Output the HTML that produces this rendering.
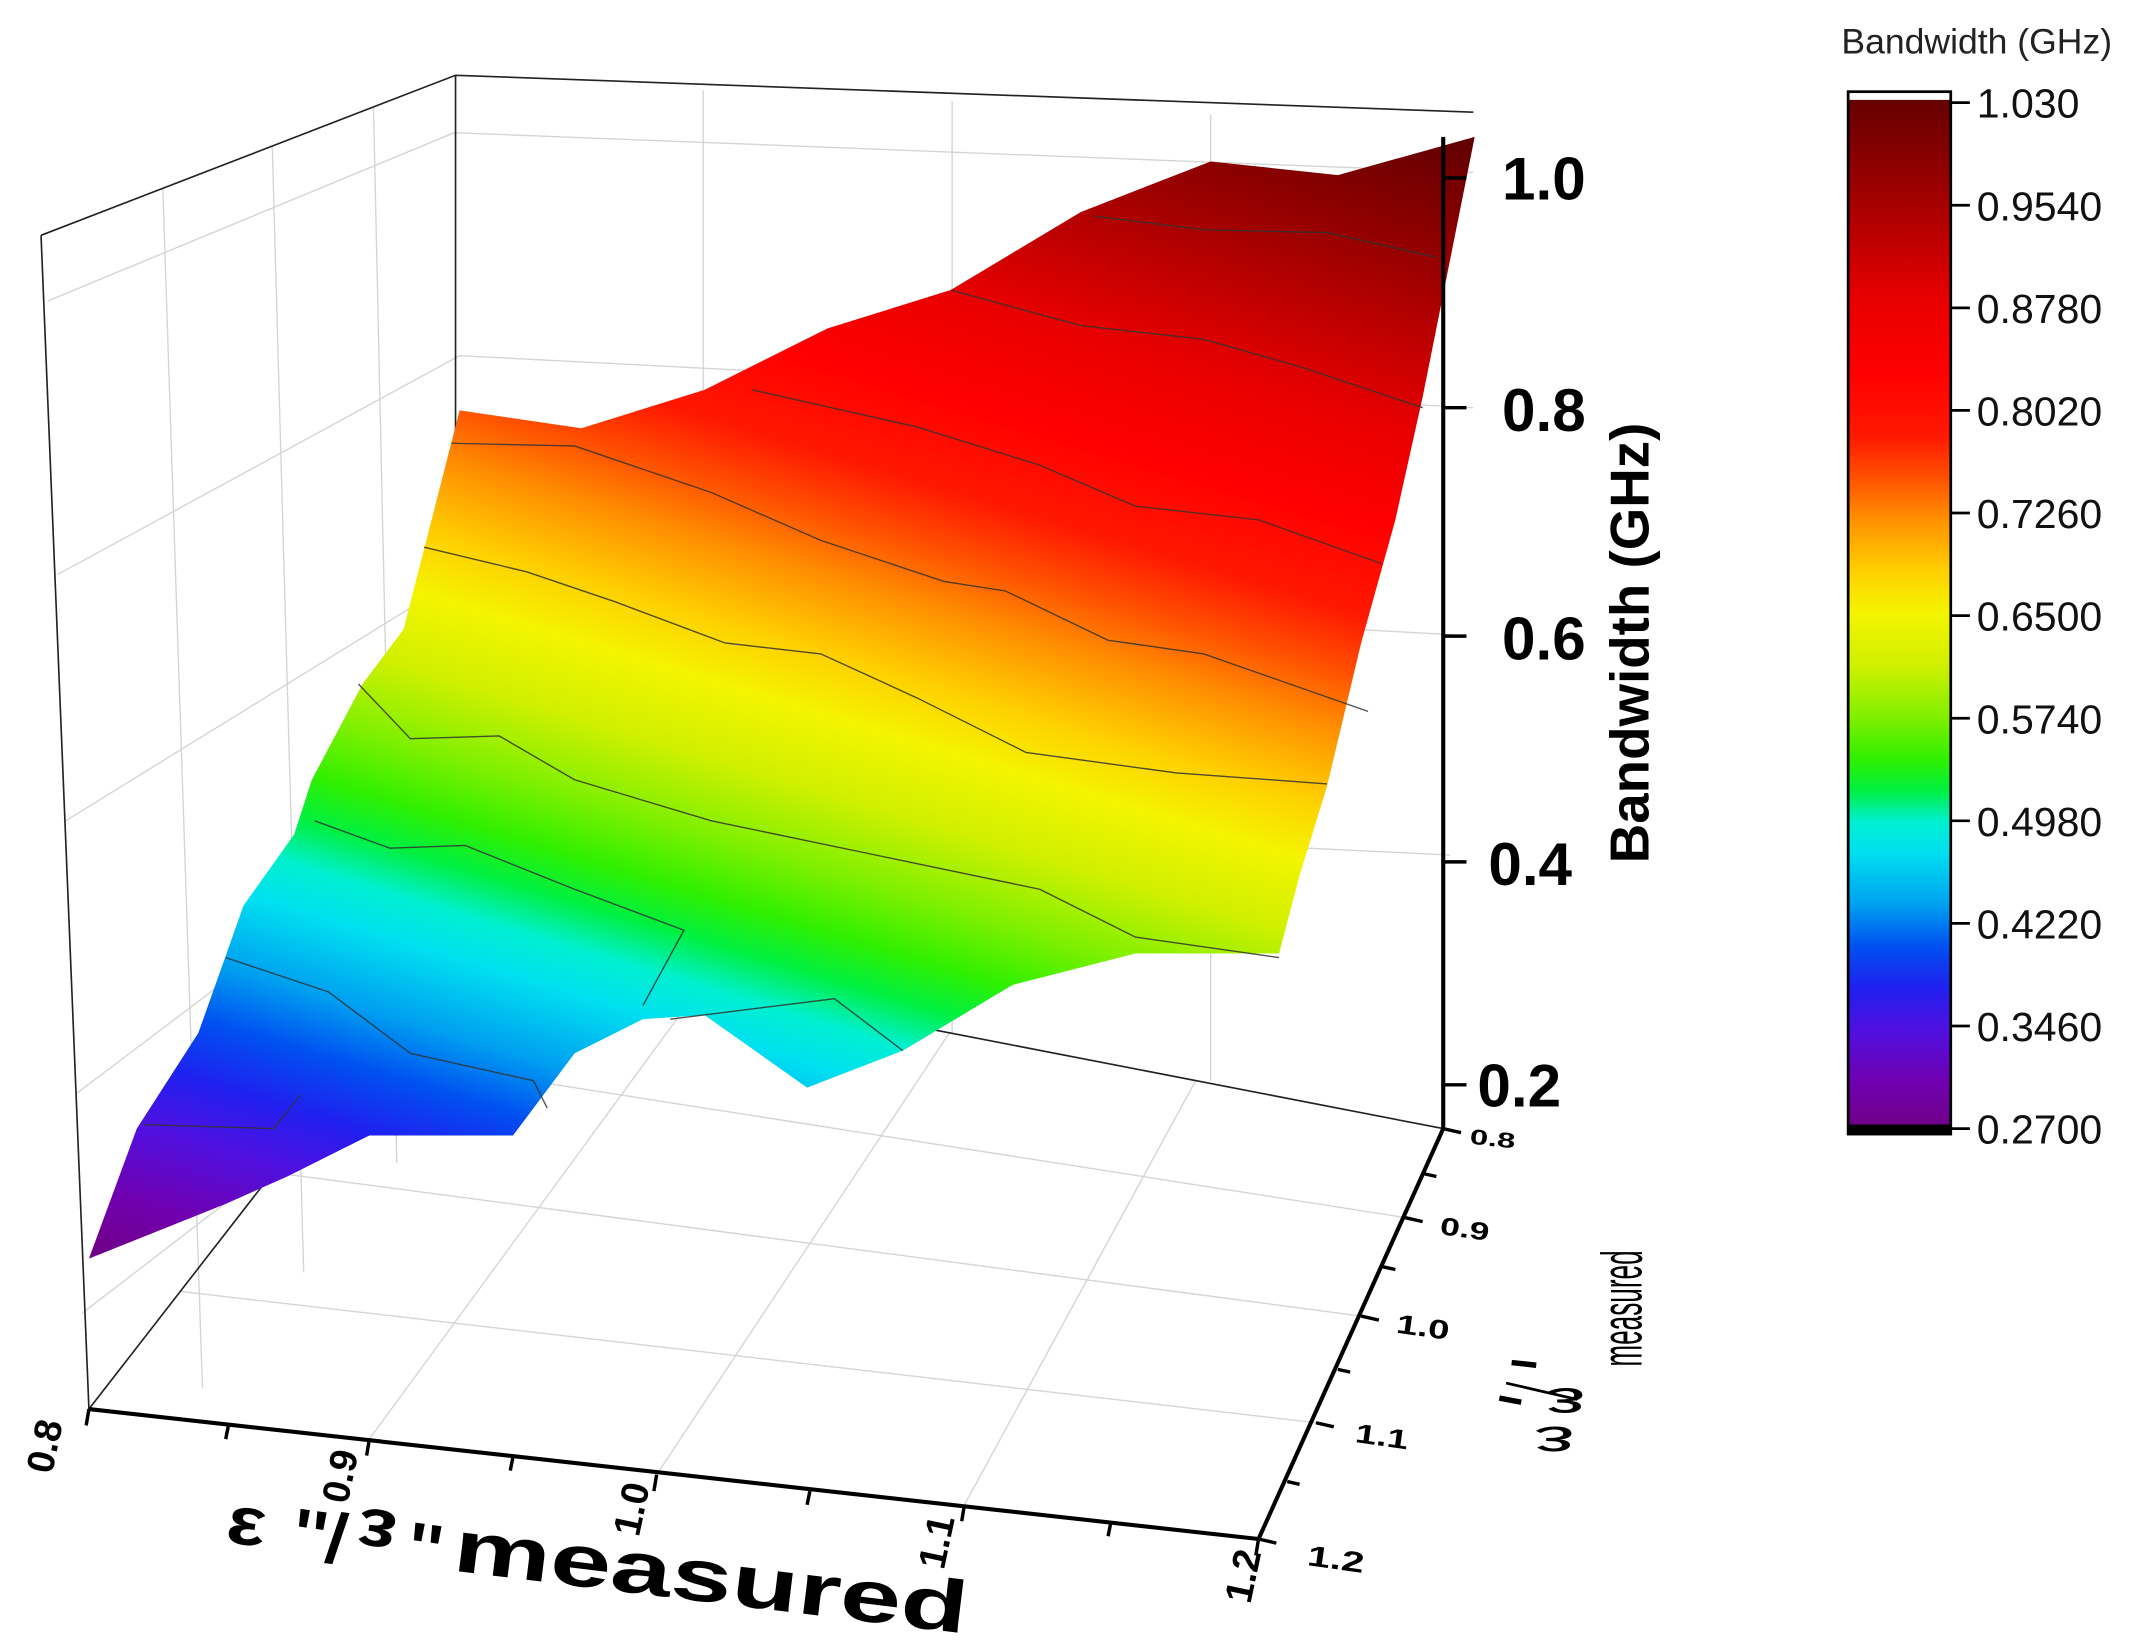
<!DOCTYPE html>
<html><head><meta charset="utf-8"><style>html,body{margin:0;padding:0;background:#fff}svg{display:block}</style></head>
<body>
<svg width="2145" height="1643" viewBox="0 0 1568 1201" xmlns="http://www.w3.org/2000/svg" font-family="Liberation Sans, Arial, sans-serif">
<defs>
<linearGradient id="g" gradientUnits="userSpaceOnUse" x1="922" y1="56" x2="612" y2="1088">
<stop offset="0" stop-color="#600000"/><stop offset="0.1" stop-color="#a00000"/><stop offset="0.2" stop-color="#e80000"/>
<stop offset="0.27" stop-color="#ff0000"/><stop offset="0.33" stop-color="#ff1800"/><stop offset="0.37" stop-color="#ff5000"/>
<stop offset="0.41" stop-color="#ff9000"/><stop offset="0.46" stop-color="#ffd000"/><stop offset="0.5" stop-color="#f4f400"/>
<stop offset="0.55" stop-color="#d0f000"/><stop offset="0.6" stop-color="#80f000"/><stop offset="0.64" stop-color="#30f000"/>
<stop offset="0.67" stop-color="#00f040"/><stop offset="0.7" stop-color="#00f0d0"/><stop offset="0.73" stop-color="#00e0f0"/>
<stop offset="0.78" stop-color="#00a0f0"/><stop offset="0.82" stop-color="#0050f0"/><stop offset="0.86" stop-color="#2020f0"/>
<stop offset="0.9" stop-color="#5010e0"/><stop offset="0.95" stop-color="#7000b0"/><stop offset="1" stop-color="#700080"/></linearGradient>
<linearGradient id="cb" x1="0" y1="0" x2="0" y2="1">
<stop offset="0" stop-color="#600000"/><stop offset="0.1" stop-color="#a00000"/><stop offset="0.2" stop-color="#e80000"/>
<stop offset="0.27" stop-color="#ff0000"/><stop offset="0.33" stop-color="#ff1800"/><stop offset="0.37" stop-color="#ff5000"/>
<stop offset="0.41" stop-color="#ff9000"/><stop offset="0.46" stop-color="#ffd000"/><stop offset="0.5" stop-color="#f4f400"/>
<stop offset="0.55" stop-color="#d0f000"/><stop offset="0.6" stop-color="#80f000"/><stop offset="0.64" stop-color="#30f000"/>
<stop offset="0.67" stop-color="#00f040"/><stop offset="0.7" stop-color="#00f0d0"/><stop offset="0.73" stop-color="#00e0f0"/>
<stop offset="0.78" stop-color="#00a0f0"/><stop offset="0.82" stop-color="#0050f0"/><stop offset="0.86" stop-color="#2020f0"/>
<stop offset="0.9" stop-color="#5010e0"/><stop offset="0.95" stop-color="#7000b0"/><stop offset="1" stop-color="#700080"/></linearGradient>
</defs>
<!-- grid -->
<g stroke="#d4d4d4" stroke-width="1" fill="none">
<path d="M119,137 L148,1015 M199,106 L222,930 M273,78 L290,850"/>
<path d="M514,66 L514,720 M696,74 L696,755 M885,84 L885,790"/>
<path d="M35,220 L332,97 L1077,126 M42,420 L336,260 L1077,298 M48,600 L333,424 L1063,464 M55,800 L333,590 L1060,625 M60,960 L333,750"/>
<path d="M266,771 L1027,890 M199,857 L995,962 M132,944 L962,1040"/>
<path d="M270,1052 L513,720 M480,1078 L694,755 M705,1100 L874,790"/>
</g>
<g stroke="#222" stroke-width="1.2" fill="none">
<path d="M30,172 L333,55 L1077,82 M333,55 L333,685 M30,172 L65,1030 L333,685 L1055,825"/>
</g>
<!-- surface -->
<path fill="url(#g)" d="M65,920 L100,825 L145,755 L178,662 L215,610 L228,570 L265,500 L295,460 L336,300 L425,313 L515,285 L605,240 L695,212 L790,155 L885,118 L978,128 L1078,100 L1062,180 L1040,290 L1020,380 L995,470 L970,575 L950,640 L935,697 L830,697 L740,720 L660,768 L590,795 L515,742 L470,745 L420,770 L375,830 L270,830 L210,860 L165,880 Z"/>
<g stroke="#333" stroke-width="1" fill="none" opacity="0.85">
<path d="M330,324 L420,326 L520,360 L600,395 L690,425 L735,432 L810,468 L880,478 L1000,520"/>
<path d="M310,400 L385,418 L450,440 L530,470 L600,478 L670,510 L750,550 L860,565 L970,573"/>
<path d="M262,500 L300,540 L365,538 L420,570 L520,600 L640,625 L760,650 L830,685 L935,700"/>
<path d="M230,600 L285,620 L340,618 L420,650 L500,680 L470,735"/>
<path d="M165,700 L240,725 L300,770 L390,790 L400,810"/>
<path d="M105,822 L200,825 L220,800"/>
<path d="M800,158 L880,168 L970,170 L1050,188"/>
<path d="M695,212 L790,238 L880,248 L950,268 L1040,298"/>
<path d="M550,285 L670,312 L760,340 L830,370 L920,380 L1010,412"/>
<path d="M490,745 L610,730 L660,768"/>
</g>
<!-- axes -->
<g stroke="#000" stroke-width="3" fill="none">
<path d="M1055,100 L1055,825 L920,1125 M65,1030 L920,1125"/>
</g>
<g stroke="#000" stroke-width="2.5">
<path d="M1055,130 L1072,130 M1055,298 L1072,298 M1055,465 L1072,465 M1055,630 L1072,630 M1055,793 L1072,793"/>
<path d="M65,1030 L63,1042 M167,1042 L165,1052 M270,1052 L268,1064 M375,1065 L373,1075 M480,1078 L478,1090 M592,1090 L590,1100 M705,1100 L703,1112 M812,1113 L810,1123 M920,1125 L918,1137"/>
<path d="M1055,825 L1068,828 M1041,858 L1050,860 M1027,890 L1040,893 M1011,926 L1020,928 M995,962 L1008,965 M978,1001 L987,1003 M962,1040 L975,1043 M941,1083 L950,1085 M920,1125 L933,1128"/>
</g>
<g font-weight="bold" font-size="44" fill="#000">
<text x="1098" y="146">1.0</text><text x="1098" y="315">0.8</text><text x="1098" y="482">0.6</text><text x="1088" y="647">0.4</text><text x="1080" y="809">0.2</text>
</g>
<text transform="translate(1205,470) rotate(-90)" text-anchor="middle" font-weight="bold" font-size="40">Bandwidth (GHz)</text>
<g font-weight="bold" font-size="28" fill="#000">
<text transform="translate(46,1040) rotate(-78)" text-anchor="end">0.8</text>
<text transform="translate(262,1062) rotate(-78)" text-anchor="end">0.9</text>
<text transform="translate(475,1086) rotate(-78)" text-anchor="end">1.0</text>
<text transform="translate(698,1110) rotate(-78)" text-anchor="end">1.1</text>
<text transform="translate(922,1135) rotate(-78)" text-anchor="end">1.2</text>
</g>
<g font-weight="bold" fill="#000">
<text transform="translate(1074,836) rotate(6) scale(1,0.65)" font-size="24">0.8</text>
<text transform="translate(1052,902) rotate(8) scale(1,0.7)" font-size="26">0.9</text>
<text transform="translate(1020,974) rotate(8) scale(1,0.7)" font-size="28">1.0</text>
<text transform="translate(990,1054) rotate(8) scale(1,0.7)" font-size="28">1.1</text>
<text transform="translate(955,1144) rotate(8) scale(1,0.7)" font-size="30">1.2</text>
</g>
<!-- bottom axis title -->
<g font-weight="bold" fill="#000">
<text transform="translate(164,1127) rotate(8) scale(1.2,1)" font-size="50">ε</text>
<text transform="translate(212,1138) rotate(8)" font-size="52">''/</text>
<text transform="translate(292,1106) rotate(188) scale(1.2,1)" font-size="50">ε</text>
<text transform="translate(296,1148) rotate(8)" font-size="52">''</text>
<text transform="translate(330,1148) rotate(7)" font-size="54" textLength="378" lengthAdjust="spacingAndGlyphs">measured</text>
</g>
<!-- depth axis title -->
<g fill="#000">
<text transform="translate(1159,1015) rotate(180) scale(1,0.5)" font-size="66">ε</text>
<text transform="translate(1151,1043) rotate(180) scale(1,0.5)" font-size="66">ε</text>
<text transform="translate(1200,999) rotate(-90)" font-size="42" textLength="85" lengthAdjust="spacingAndGlyphs">measured</text>
</g>
<g stroke="#000" fill="none">
<path d="M1105,996 L1123,998 M1096,1022 L1112,1025" stroke-width="4"/>
<path d="M1101,1011 L1153,1023" stroke-width="2"/>
</g>
<!-- colorbar -->
<text x="1445" y="39" font-size="26" text-anchor="middle" fill="#222">Bandwidth (GHz)</text>
<rect x="1351" y="67" width="75" height="762" fill="url(#cb)"/>
<rect x="1351" y="67" width="75" height="6" fill="#fff"/>
<rect x="1351" y="822" width="75" height="7" fill="#000"/>
<rect x="1351" y="67" width="75" height="762" fill="none" stroke="#000" stroke-width="2"/>
<g stroke="#000" stroke-width="2">
<path d="M1426,75 L1440,75 M1426,150 L1440,150 M1426,225 L1440,225 M1426,300 L1440,300 M1426,375 L1440,375 M1426,450 L1440,450 M1426,525 L1440,525 M1426,600 L1440,600 M1426,675 L1440,675 M1426,750 L1440,750 M1426,825 L1440,825"/>
</g>
<g font-size="30" fill="#111">
<text x="1445" y="86">1.030</text><text x="1445" y="161">0.9540</text><text x="1445" y="236">0.8780</text><text x="1445" y="311">0.8020</text><text x="1445" y="386">0.7260</text><text x="1445" y="461">0.6500</text><text x="1445" y="536">0.5740</text><text x="1445" y="611">0.4980</text><text x="1445" y="686">0.4220</text><text x="1445" y="761">0.3460</text><text x="1445" y="836">0.2700</text>
</g>
</svg>
</body></html>
